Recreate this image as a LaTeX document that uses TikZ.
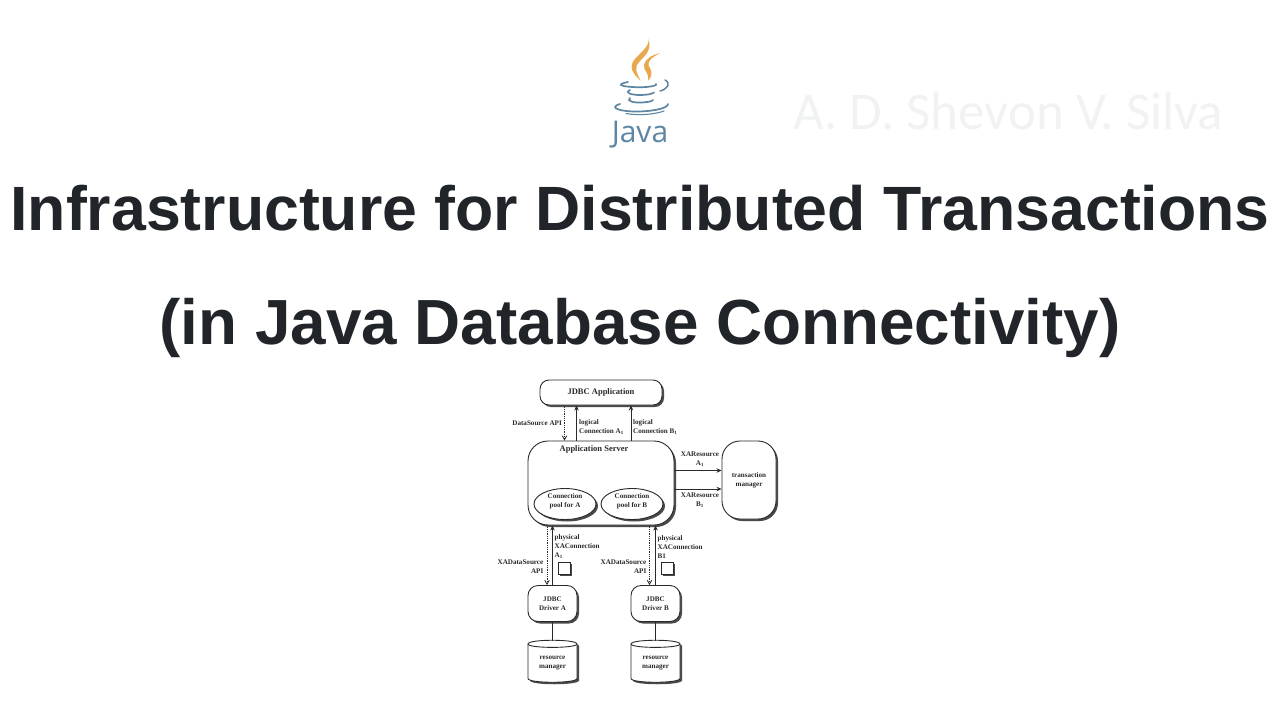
\documentclass[tikz,border=0pt]{standalone}
\usepackage{fontspec}
\setmainfont{Liberation Serif}
\newfontfamily\titlefont{Liberation Sans}
\newfontfamily\markfont{Carlito}
\newfontfamily\javafont{Open Sans}
\usetikzlibrary{arrows.meta,shapes.geometric,shadows}
\definecolor{ink}{HTML}{212529}
\definecolor{boxink}{HTML}{2A2A2A}
\definecolor{javablue}{HTML}{5E86A3}
\definecolor{javaorange}{HTML}{E9A84C}
\definecolor{markgrey}{HTML}{F1F3F3}
\tikzset{
  x=1pt,y=-1pt,
  titletext/.style={text=ink,inner sep=0},
  lab/.style={font=\fontsize{7.1}{9}\selectfont\bfseries,text=boxink,inner sep=0},
  biglab/.style={font=\fontsize{8.5}{10}\selectfont\bfseries,text=boxink,inner sep=0},
  shade/.style={drop shadow={shadow xshift=2pt,shadow yshift=-2pt,fill=boxink!85,opacity=1}},
  box/.style={draw=boxink,fill=white,line width=0.9pt,inner sep=0,shade},
  drumbody/.style={lab,align=center,minimum height=44pt,minimum width=49pt},
  link/.style={draw=boxink,line width=0.8pt},
  solidarrow/.style={link,-{Stealth[length=5pt,width=4.5pt]}},
  dasharrow/.style={link,densely dotted,-{Straight Barb[length=4pt,width=4.5pt]}},
}
\newcommand{\drumshape}[1]{%
  \begin{scope}[shift={(#1)}]
    \fill[boxink!85] (-22.5,-15) .. controls (-22.5,-20) and (26.5,-20) .. (26.5,-15) -- (26.5,19.5) .. controls (26.5,24.5) and (-22.5,24.5) .. (-22.5,19.5) -- cycle;
    \filldraw[draw=boxink,fill=white,line width=0.9pt] (-24.5,-17) .. controls (-24.5,-22) and (24.5,-22) .. (24.5,-17) -- (24.5,17.5) .. controls (24.5,22.5) and (-24.5,22.5) .. (-24.5,17.5) -- cycle;
    \draw[boxink,line width=0.9pt] (-24.5,-17) .. controls (-24.5,-12.5) and (24.5,-12.5) .. (24.5,-17);
  \end{scope}}
\begin{document}
\begin{tikzpicture}
\useasboundingbox (0,0) rectangle (1280,720);
\fill[white] (0,0) rectangle (1280,720);
% Java logo
\fill[javaorange] (648.5,38.5) .. controls (650,46) and (641,52) .. (635,59) .. controls (628,67) and (633,74) .. (640.5,80.5) .. controls (637,73) and (633,68) .. (640,61) .. controls (646,55) and (652,49) .. (648.5,38.5) -- cycle;
\fill[javaorange] (660,53) .. controls (652,55) and (645,59) .. (644,65) .. controls (643,70) and (650,74) .. (648,80.5) .. controls (654,75) and (651,69) .. (648.5,65.5) .. controls (647,61) and (654,56) .. (660,53) -- cycle;
\draw[javablue,line width=1.7pt,line cap=round] (628,82) .. controls (618,84) and (618,86) .. (632,87) .. controls (645,88) and (658,86) .. (656,84);
\draw[javablue,line width=1.5pt,line cap=round] (665,80) .. controls (671,83) and (668,89) .. (660,91);
\draw[javablue,line width=1.7pt,line cap=round] (630,90) .. controls (624,93) and (632,95) .. (640,95) .. controls (647,95) and (652,94) .. (654,92.5);
\draw[javablue,line width=1.7pt,line cap=round] (630,98) .. controls (626,101) and (634,103) .. (642,102.5) .. controls (647,102) and (651,102) .. (653,100);
\draw[javablue,line width=1.7pt,line cap=round] (620,104) .. controls (607,108) and (622,112) .. (640,111.5) .. controls (655,111) and (668,108) .. (668,104);
\draw[javablue,line width=1.1pt,line cap=round] (626,113.5) .. controls (640,116) and (656,114) .. (664,111);
\node[inner sep=0,text=javablue,font=\javafont\fontsize{30}{34}\selectfont] (javaword) at (640,134.5) {Java};
% Watermark
\node[inner sep=0,text=markgrey,font=\markfont\fontsize{53}{56}\selectfont] (mark) at (1008.5,111) {A. D. Shevon V. Silva};
% Titles
\node[titletext,font=\titlefont\fontsize{62.6}{70}\selectfont\bfseries] (title1) at (640,208) {Infrastructure for Distributed Transactions};
\node[titletext,font=\titlefont\fontsize{63.8}{70}\selectfont\bfseries] (title2) at (640,328) {(in Java Database Connectivity)};
% Boxes
\node[box,rounded corners=9pt,minimum width=122pt,minimum height=25pt,biglab] (app) at (601,392.5) {JDBC Application};
\node[box,rounded corners=20pt,minimum width=146pt,minimum height=84pt] (srv) at (601,483) {};
\node[box,rounded corners=18pt,minimum width=54pt,minimum height=78pt] (tm) at (749,480) {};
\node[box,ellipse,minimum width=62pt,minimum height=31pt] (poolA) at (565,504) {};
\node[box,ellipse,minimum width=62pt,minimum height=31pt] (poolB) at (632,504) {};
\node[box,rounded corners=10pt,minimum width=49pt,minimum height=36pt,lab,align=center] (drvA) at (552.5,603.5) {JDBC\\Driver A};
\node[box,rounded corners=10pt,minimum width=49pt,minimum height=36pt,lab,align=center] (drvB) at (655.5,603.5) {JDBC\\Driver B};
\drumshape{552.5,661}
\drumshape{655.5,661}
\node[drumbody] (rmA) at (552.5,663.5) {resource\\manager};
\node[drumbody] (rmB) at (655.5,663.5) {resource\\manager};
\node[box,minimum width=12pt,minimum height=12pt] (sqA) at (564,568) {};
\node[box,minimum width=12pt,minimum height=12pt] (sqB) at (667,568) {};
% Connector columns
\coordinate (c1) at (564.5,0);
\coordinate (c2) at (576.5,0);
\coordinate (c3) at (631,0);
\coordinate (c4) at (547,0);
\coordinate (c5) at (552.5,0);
\coordinate (c6) at (649.5,0);
\coordinate (c7) at (655.5,0);
\coordinate (r1) at (0,470.5);
\coordinate (r2) at (0,489);
% Connectors
\draw[dasharrow] (app.south -| c1) -- (srv.north -| c1);
\draw[solidarrow] (srv.north -| c2) -- (app.south -| c2);
\draw[solidarrow] (srv.north -| c3) -- (app.south -| c3);
\draw[solidarrow] (srv.east |- r1) -- (tm.west |- r1);
\draw[solidarrow] (srv.east |- r2) -- (tm.west |- r2);
\draw[dasharrow] (srv.south -| c4) -- (drvA.north -| c4);
\draw[solidarrow] (drvA.north -| c5) -- (srv.south -| c5);
\draw[dasharrow] (srv.south -| c6) -- (drvB.north -| c6);
\draw[solidarrow] (drvB.north -| c7) -- (srv.south -| c7);
\draw[link] (drvA.south) -- (rmA.north);
\draw[link] (drvB.south) -- (rmB.north);
% Labels
\node[biglab] (srvlab) at (594,449.5) {Application Server};
\node[lab,align=center] (tmlab) at (749,480) {transaction\\manager};
\node[lab,align=center] (poolAlab) at (565,501) {Connection\\pool for A};
\node[lab,align=center] (poolBlab) at (632,501) {Connection\\pool for B};
\node[lab,anchor=east] (dslab) at (562,423) {DataSource API};
\node[lab,anchor=west,align=left] (logA) at (579,427.5) {logical\\Connection A\textsubscript{1}};
\node[lab,anchor=west,align=left] (logB) at (633,427.5) {logical\\Connection B\textsubscript{1}};
\node[lab,align=center] (xaA) at (700,459) {XAResource\\A\textsubscript{1}};
\node[lab,align=center] (xaB) at (700,500.5) {XAResource\\B\textsubscript{1}};
\node[lab,anchor=west,align=left] (phyA) at (554.5,547) {physical\\XAConnection\\A\textsubscript{1}};
\node[lab,anchor=west,align=left] (phyB) at (657.5,547) {physical\\XAConnection\\B1};
\node[lab,anchor=east,align=right] (xdsA) at (543.5,567) {XADataSource\\API};
\node[lab,anchor=east,align=right] (xdsB) at (646.5,567) {XADataSource\\API};
\end{tikzpicture}
\end{document}
